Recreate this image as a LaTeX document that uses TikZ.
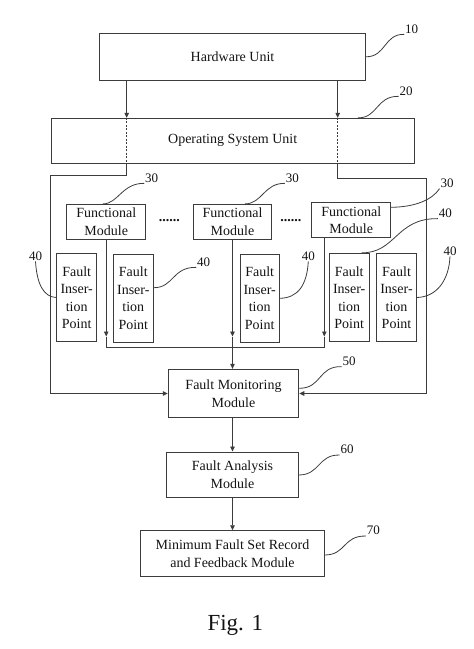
\documentclass[tikz,border=0pt]{standalone}
\usepackage{fontspec}
\setmainfont{Liberation Serif}
\usetikzlibrary{arrows.meta}
\definecolor{ln}{RGB}{60,60,60}
\definecolor{tx}{RGB}{20,20,20}
\tikzset{
  box/.style={draw=ln, rectangle, inner sep=0pt, align=center, text=tx,
    font=\fontsize{14}{17.5}\selectfont},
  lbl/.style={inner sep=0.5pt, text=tx, font=\fontsize{13}{15}\selectfont},
  arr/.style={-{Triangle[length=5pt,width=4.5pt]}},
  lead/.style={line width=0.8pt},
  dsh/.style={dash pattern=on 2pt off 1.5pt},
}
\begin{document}
\begin{tikzpicture}[x=1pt,y=-1pt,line width=0.9pt,color=ln]
\useasboundingbox (0,0) rectangle (474,649);
% boxes
\node[box, minimum width=266.4, minimum height=47] (hw) at (232.5,56.8) {Hardware Unit};
\node[box, minimum width=363.3, minimum height=45] (os) at (232.7,140.8) {Operating System Unit};
\node[box, minimum width=79, minimum height=35] (fm1) at (106.2,221.8) {Functional\\Module};
\node[box, minimum width=78.4, minimum height=35] (fm2) at (232.5,221.8) {Functional\\Module};
\node[box, minimum width=79, minimum height=35] (fm3) at (351.2,220.2) {Functional\\Module};
\node[lbl, font=\bfseries\fontsize{14}{17}\selectfont] (d1) at (169.3,221) {......};
\node[lbl, font=\bfseries\fontsize{14}{17}\selectfont] (d2) at (290.8,221) {......};
\node[box, minimum width=40, minimum height=88.4] (fip1) at (76.7,297.5) {Fault\\Inser-\\tion\\Point};
\node[box, minimum width=40, minimum height=88] (fip2) at (133.3,298.3) {Fault\\Inser-\\tion\\Point};
\node[box, minimum width=39.3, minimum height=88] (fip3) at (259.7,298.3) {Fault\\Inser-\\tion\\Point};
\node[box, minimum width=39.7, minimum height=88.4] (fip4) at (349.2,297.5) {Fault\\Inser-\\tion\\Point};
\node[box, minimum width=39.6, minimum height=88.4] (fip5) at (396.5,297.5) {Fault\\Inser-\\tion\\Point};
\node[box, minimum width=130.6, minimum height=48.4] (fmon) at (233.5,393.5) {Fault Monitoring\\Module};
\node[box, minimum width=131.6, minimum height=45.7] (fa) at (232.5,474.8) {Fault Analysis\\Module};
\node[box, minimum width=183.6, minimum height=45.6] (mfs) at (232.5,553.5) {Minimum Fault Set Record\\and Feedback Module};
% connectors
\coordinate (pL) at (126.7,0);
\coordinate (pR) at (337.7,0);
\draw[arr] (hw.south -| pL) -- (os.north -| pL);
\draw[arr] (hw.south -| pR) -- (os.north -| pR);
\draw[dsh] (os.north -| pL) -- (os.south -| pL);
\draw[dsh] (os.north -| pR) -- (os.south -| pR);
\draw[arr] (os.south -| pL) -- (pL |- 0,175) -- (os.west |- 0,175) |- (fmon.west);
\draw[arr] (os.south -| pR) -- (pR |- 0,178.3) -- (426.7,178.3) |- (fmon.east);
\coordinate (b3) at (324.3,0);
\coordinate (tipy) at (0,336.5);
\coordinate (busy) at (0,347.5);
\draw[arr] (fm1.south) -- (fm1.south |- tipy);
\draw (fm1.south |- tipy) -- (fm1.south |- busy) -- (b3 |- busy) -- (b3 |- tipy);
\draw[arr] (fm3.south -| b3) -- (b3 |- tipy);
\draw[arr] (fm2.south) -- (fm2.south |- tipy);
\draw[arr] (fm2.south |- tipy) -- (fm2.south |- fmon.north);
\draw[arr] (fa.north |- fmon.south) -- (fa.north);
\draw[arr] (fa.south) -- (mfs.north);
% reference labels
\node[lbl] (l10) at (411.7,29) {10};
\draw[lead] (hw.east) .. controls (386,56.8) and (384,33.8) .. (l10.south west);
\node[lbl] (l20) at (406,91) {20};
\draw[lead] (os.north -| 358,0) .. controls (378,118) and (376,96) .. (l20.south west);
\node[lbl] (l30a) at (151.7,178) {30};
\draw[lead] (fm1.north -| 103,0) .. controls (118,204) and (122,183) .. (l30a.south west);
\node[lbl] (l30b) at (292.3,178) {30};
\draw[lead] (fm2.north -| 245,0) .. controls (262,204) and (264,183) .. (l30b.south west);
\node[lbl] (l30c) at (447,183.3) {30};
\draw[lead] (fm3.east |- 0,207.3) .. controls (415,207) and (432,200) .. (l30c.south west);
\node[lbl] (l40a) at (35.5,256) {40};
\draw[lead] (fip1.west) .. controls (44,297) and (37,285) .. (l40a.south);
\node[lbl] (l40b) at (203.7,262) {40};
\draw[lead] (fip2.east |- 0,287.7) .. controls (174,287.7) and (172,267) .. (l40b.south west);
\node[lbl] (l40c) at (308.3,256) {40};
\draw[lead] (fip3.east) .. controls (298,298) and (307,285) .. (l40c.south);
\node[lbl] (l40d) at (445.3,213.3) {40};
\draw[lead] (fip4.north -| 361.7,0) .. controls (396,253) and (396,218) .. (l40d.south west);
\node[lbl] (l40e) at (450,251) {40};
\draw[lead] (fip5.east) .. controls (437,297) and (449,280) .. (l40e.south);
\node[lbl] (l50) at (349,361.3) {50};
\draw[lead] (fmon.east |- 0,388.3) .. controls (322,388.3) and (318,366) .. (l50.south west);
\node[lbl] (l60) at (347,449.7) {60};
\draw[lead] (fa.east |- 0,475) .. controls (320,475) and (318,454.5) .. (l60.south west);
\node[lbl] (l70) at (373.3,530.7) {70};
\draw[lead] (mfs.east |- 0,555) .. controls (346,555) and (343,535.5) .. (l70.south west);
% caption
\node[anchor=base, inner sep=0pt, text=tx, font=\fontsize{23}{28}\selectfont] (fig) at (235.3,630.7) {Fig. 1};
\end{tikzpicture}
\end{document}
